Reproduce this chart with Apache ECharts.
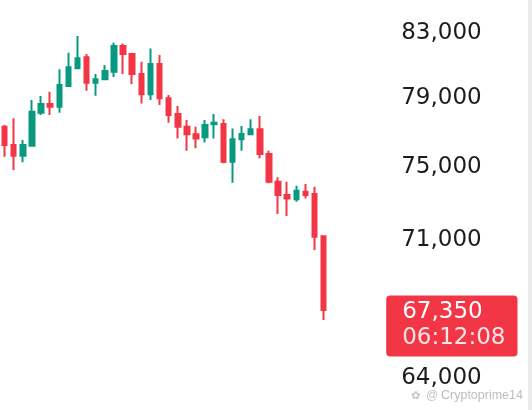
<!DOCTYPE html>
<html>
<head>
<meta charset="utf-8">
<script src="https://cdn.jsdelivr.net/npm/echarts@6/dist/echarts.min.js"></script>
<style>
html,body{margin:0;padding:0;background:#ffffff;}
#chart{width:532px;height:410px;}
</style>
</head>
<body>
<div id="chart"></div>
<script>
const categories = ['1','2','3','4','5','6','7','8','9','10','11','12','13','14','15','16','17','18','19','20','21','22','23','24','25','26','27','28','29','30','31','32','33','34','35','36'];
const opens  = [77330,76270,75660,76230,78150,78660,78500,79740,80810,81480,79940,80140,80600,82180,81680,80460,79240,81070,79000,78070,77330,76890,76710,77470,77480,75310,76600,76890,77180,75750,74190,73450,73210,73630,73500,71200];
const closes = [76270,75660,76270,78200,78660,78500,79800,80870,81420,79940,80140,80640,82180,81680,80460,79240,81070,79000,78010,77330,76890,76650,77430,77560,75310,76600,76900,77180,75750,74190,73450,73260,73680,73450,71170,67350];
const lows   = [75600,74840,75280,76200,78010,78010,78150,79700,80750,79450,79160,80100,80280,80460,79840,78700,78900,78600,77560,76650,75940,76080,76420,76650,75220,74130,75940,76840,75510,74100,72400,72290,73080,73260,70460,66840];
const highs  = [77430,77820,76560,78900,79140,79400,80750,81760,82800,81680,80460,81010,82380,82340,81730,81210,82030,81620,79200,78540,77720,77330,77720,78070,77760,77230,77370,77760,77950,75940,74430,74190,73960,74060,73910,71200];
const tickValues = [83000, 79000, 75000, 71000, 64000];
const countdown = '06:12:08';
const watermark = 'Cryptoprime14';

const UP = '#089981', DOWN = '#F23645';
const candleData = opens.map((o, i) => [o, closes[i], lows[i], highs[i]]);
const lastClose = closes[closes.length - 1];
const fmt = v => Number(v).toLocaleString('en-US');

const chart = echarts.init(document.getElementById('chart'), null, {renderer: 'canvas'});
chart.setOption({
  animation: false,
  backgroundColor: '#ffffff',
  grid: {left: -1, top: 0, width: 329.2, height: 410, containLabel: false},
  xAxis: {
    type: 'category', data: categories, boundaryGap: true,
    axisLine: {show: false}, axisTick: {show: false}, axisLabel: {show: false}, splitLine: {show: false}
  },
  yAxis: {
    type: 'log', logBase: 10, position: 'right', min: 62455, max: 85081,
    axisLine: {show: false}, axisTick: {show: false}, splitLine: {show: false},
    axisLabel: {
      customValues: tickValues, margin: 73, color: '#1c1c1c',
      fontFamily: 'DejaVu Sans', fontSize: 23, formatter: v => fmt(v)
    }
  },
  series: [{
    type: 'candlestick', data: candleData, barWidth: 5,
    itemStyle: {color: UP, color0: DOWN, borderColor: UP, borderColor0: DOWN, borderWidth: 2},
    markLine: {
      silent: true, symbol: 'none', animation: false,
      lineStyle: {color: 'rgba(0,0,0,0)', width: 1, type: 'solid'},
      data: [{yAxis: lastClose}],
      label: {
        show: true, position: 'end', distance: 58, offset: [0, 16],
        backgroundColor: DOWN, borderRadius: 4, padding: [4, 12, 6, 16],
        formatter: () => '{a|' + fmt(lastClose) + '}\n{b|' + countdown + '}',
        rich: {
          a: {color: '#ffffff', fontFamily: 'DejaVu Sans', fontSize: 23, lineHeight: 25.5},
          b: {color: 'rgba(255,255,255,0.88)', fontFamily: 'DejaVu Sans', fontSize: 23, lineHeight: 25.5}
        }
      }
    }
  }],
  graphic: [
    {type: 'rect', shape: {x: 528, y: 0, width: 4, height: 410}, style: {fill: '#ebebeb'}, silent: true},
    {type: 'text', x: 411, y: 396, style: {text: '✿', fill: '#c4c4c4', font: '11px "DejaVu Sans"', verticalAlign: 'middle'}},
    {type: 'text', x: 426, y: 396, style: {text: '@', fill: '#c4c4c4', font: '12px "Liberation Sans"', verticalAlign: 'middle'}},
    {type: 'text', x: 441, y: 396, style: {text: watermark, fill: '#bdbdbd', font: '12.5px "Liberation Sans"', verticalAlign: 'middle'}}
  ]
});
</script>
</body>
</html>
